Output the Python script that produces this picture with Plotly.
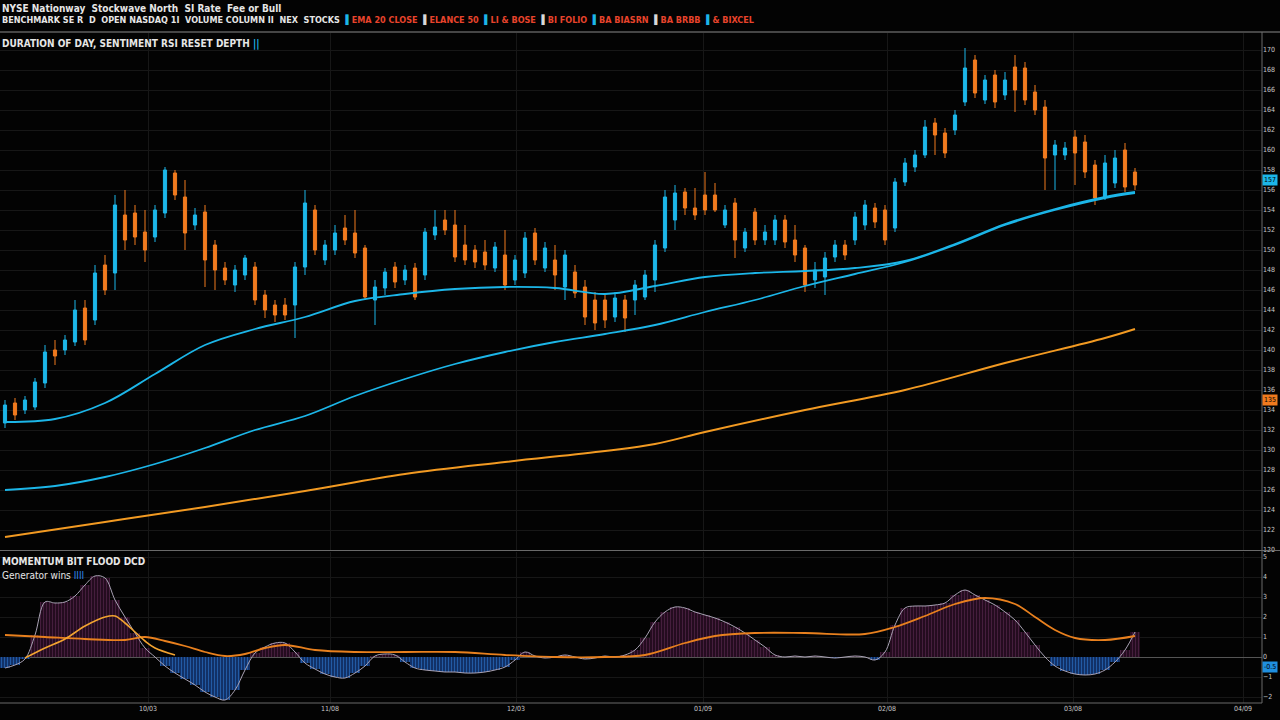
import plotly.graph_objects as go

# ---------------- data ----------------
idx = list(range(114))

opens = [132.7,134.7,134.0,134.3,136.7,140.0,140.0,140.8,144.2,143.0,
         148.5,147.7,153.5,153.7,151.8,151.3,153.7,157.7,155.3,152.5,
         153.8,150.5,148.2,146.5,147.5,148.3,145.5,144.5,144.5,144.5,
         148.3,154.0,149.0,150.0,152.2,151.7,150.2,145.0,146.2,148.3,
         147.0,148.2,147.5,151.5,153.0,152.5,150.5,150.0,149.8,148.2,
         149.5,147.0,147.7,151.7,148.2,149.0,146.3,147.8,146.3,145.0,
         145.0,143.3,145.0,145.0,145.3,147.0,150.2,153.0,155.8,154.2,
         155.5,155.5,152.5,154.7,150.2,153.8,151.0,151.0,153.0,151.0,
         150.2,147.0,147.3,149.3,150.5,151.0,152.5,154.2,154.0,152.2,
         156.8,158.3,159.5,162.7,161.7,162.0,164.8,169.0,165.0,167.5,
         165.5,168.3,168.2,165.8,164.3,159.5,159.5,161.3,160.8,158.5,
         155.3,156.7,160.0,157.8]

highs = [135.0,135.2,135.4,137.2,140.5,141.0,141.5,145.0,145.0,148.5,
         149.5,155.5,156.0,154.5,154.0,154.5,158.3,158.0,157.0,154.2,
         154.5,151.0,148.8,148.5,149.5,148.8,146.0,145.0,145.2,148.8,
         156.0,154.5,151.0,152.5,153.5,154.0,150.5,147.0,148.2,148.8,
         148.5,148.7,152.2,154.0,154.0,154.0,152.5,150.5,151.0,150.8,
         152.0,149.5,151.8,152.2,150.8,150.5,150.0,148.5,147.0,145.8,
         145.5,145.8,145.5,147.0,148.0,151.0,156.0,156.5,156.2,156.2,
         157.8,156.7,154.5,155.2,152.2,154.2,152.5,153.5,153.5,152.5,
         150.5,148.8,149.8,151.0,151.0,153.8,155.0,154.7,154.5,157.2,
         159.2,160.0,163.0,163.2,162.2,164.0,170.2,169.5,167.5,168.0,
         167.8,169.5,168.8,166.5,165.0,161.0,160.8,162.0,161.5,159.0,
         159.5,160.0,160.7,158.2]

lows = [132.2,133.0,133.6,134.0,136.2,138.5,139.5,140.4,140.5,142.5,
        145.5,146.0,150.0,150.5,148.8,150.8,153.2,155.0,150.0,152.0,
        146.3,146.0,146.5,145.8,147.0,144.5,143.2,142.8,143.0,141.2,
        147.5,149.5,148.5,149.5,150.5,149.2,145.0,142.5,145.5,146.2,
        146.5,145.0,147.0,151.0,151.5,148.8,148.5,148.2,148.0,147.8,
        146.0,146.5,147.2,148.5,147.8,146.0,145.0,145.2,142.5,142.0,
        142.2,142.8,141.8,143.5,145.0,145.8,149.8,152.0,153.5,153.0,
        153.5,153.8,152.2,149.2,149.8,150.5,150.5,150.5,150.2,148.8,
        145.8,146.2,145.5,148.8,149.0,150.5,152.0,152.2,150.5,151.8,
        156.4,157.8,159.2,159.5,159.2,161.5,164.4,165.2,164.6,164.2,
        165.0,163.8,164.5,163.5,156.0,156.0,159.0,156.5,157.2,154.5,
        155.0,156.2,155.8,156.0]

closes = [134.5,133.5,135.0,136.8,139.8,139.4,141.0,144.0,141.0,147.7,
          146.0,154.5,151.0,151.3,150.0,154.0,158.0,155.5,151.7,153.5,
          149.0,148.0,147.0,148.0,149.2,145.0,144.0,143.5,143.5,148.3,
          154.7,150.0,150.5,151.7,151.0,149.7,145.3,146.3,147.8,146.8,
          148.0,145.3,151.8,152.3,152.0,149.3,149.0,148.8,148.5,150.3,
          146.5,149.0,151.2,149.0,150.2,147.5,149.5,145.7,143.3,142.7,
          143.0,145.2,143.2,146.5,147.5,150.5,155.3,155.7,154.2,153.5,
          154.0,154.0,154.0,151.0,151.8,151.0,151.8,153.0,150.8,149.5,
          146.5,148.0,149.2,150.5,149.5,153.3,154.5,152.8,151.0,156.8,
          158.7,159.5,162.3,161.5,159.7,163.5,168.2,165.7,167.0,164.8,
          167.0,166.0,165.0,164.0,159.2,160.5,160.2,159.7,157.8,155.2,
          158.7,159.2,156.3,156.5]

ma_idx = [0,5,10,15,20,25,30,35,40,45,50,55,60,65,70,75,80,85,90,95,100,105,110,113]
ma_fast = [132.8,133.1,134.7,137.6,140.5,142.1,143.3,144.9,145.6,146.1,146.3,146.2,
           145.6,146.4,147.3,147.7,147.9,148.2,148.9,150.6,152.6,154.1,155.3,155.8]
ma_mid = [126.0,126.4,127.3,128.6,130.2,132.0,133.4,135.4,137.1,138.6,139.8,140.8,
          141.6,142.5,143.8,145.0,146.4,147.6,148.8,150.5,152.5,154.0,155.2,155.7]
ma_slow_idx = [0,10,20,30,40,50,60,65,70,80,90,100,110,113]
ma_slow = [121.3,122.8,124.3,125.9,127.6,128.8,129.9,130.6,131.8,134.0,136.0,138.7,141.2,142.1]

hist = [-0.55,-0.4,-0.1,1.1,2.75,2.7,2.75,3.05,3.6,4.05,
        3.95,2.85,2.0,1.2,0.45,0.0,-0.45,-0.8,-1.1,-1.4,
        -1.75,-2.0,-2.15,-1.65,-0.65,0.2,0.5,0.7,0.7,0.25,
        -0.3,-0.6,-0.85,-1.0,-1.05,-0.8,-0.45,0.05,0.15,0.1,
        -0.25,-0.55,-0.65,-0.7,-0.75,-0.75,-0.8,-0.8,-0.75,-0.65,
        -0.5,-0.15,0.25,0.05,-0.05,0.0,0.1,0.0,-0.1,-0.05,
        0.05,0.0,0.1,0.35,0.95,1.75,2.25,2.5,2.45,2.25,
        2.1,1.95,1.75,1.5,1.2,0.85,0.5,0.1,0.0,0.05,
        0.0,0.05,0.0,-0.05,0.0,0.05,0.0,-0.15,0.25,1.6,
        2.45,2.55,2.55,2.6,2.7,3.1,3.35,3.1,2.85,2.6,
        2.25,1.85,1.25,0.6,0.0,-0.45,-0.7,-0.85,-0.9,-0.85,
        -0.65,-0.25,0.35,1.25]

osc_a_idx = [0,4,8,12,14,16,18,20,22,24,26,28,31,35,40,45,50,55,60,64,
             68,71,75,80,86,89,92,95,98,101,103,105,107,110,113]
osc_a = [1.1,1.0,0.9,0.85,1.0,0.8,0.55,0.25,0.05,0.15,0.45,0.6,0.35,0.25,0.25,0.25,0.1,0.0,0.0,0.1,
         0.7,1.05,1.2,1.2,1.15,1.5,2.05,2.65,2.95,2.65,2.0,1.35,0.95,0.85,1.05]
osc_b_idx = [2,4,6,8,10,11,12,13,14,15,17]
osc_b = [-0.05,0.45,0.9,1.55,2.0,2.05,1.7,1.25,0.8,0.45,0.1]

date_labels = ["10/03", "11/08", "12/03", "01/09", "02/08", "03/08", "04/09"]
price_tags = [157.0, 135.0]
osc_tag = -0.5

title_line1 = "NYSE Nationway  Stockwave North  SI Rate  Fee or Bull"
title_line2 = "BENCHMARK SE R  D  OPEN NASDAQ 1I  VOLUME COLUMN II  NEX  STOCKS"
legend_items = ["EMA 20 CLOSE", "ELANCE 50", "LI & BOSE", "BI FOLIO", "BA BIASRN", "BA BRBB", "& BIXCEL"]
title_line3 = "DURATION OF DAY, SENTIMENT RSI RESET DEPTH"
osc_title1 = "MOMENTUM BIT FLOOD DCD"
osc_title2 = "Generator wins"

# ---------------- style ----------------
BG = "#030303"
CYAN = "#1cb6e8"
ORANGE = "#f07a1e"
ORANGE_MA = "#f29a22"
GRID = "#171717"
FONT = "Liberation Sans Narrow, DejaVu Sans Condensed, Arial Narrow, sans-serif"

TOP, BOT, H = 33, 703, 670
RIGHT = 1262


def py(p):
    return (BOT - p) / H


fig = go.Figure()

fig.add_trace(go.Candlestick(
    x=idx, open=opens, high=highs, low=lows, close=closes,
    xaxis="x", yaxis="y", whiskerwidth=0,
    increasing=dict(line=dict(color=CYAN, width=1), fillcolor=CYAN),
    decreasing=dict(line=dict(color=ORANGE, width=1), fillcolor=ORANGE),
    showlegend=False, hoverinfo="skip"))

fig.add_trace(go.Scatter(x=ma_idx, y=ma_fast, mode="lines", xaxis="x", yaxis="y",
                         line=dict(color=CYAN, width=1.8, shape="spline"), hoverinfo="skip"))
fig.add_trace(go.Scatter(x=ma_idx, y=ma_mid, mode="lines", xaxis="x", yaxis="y",
                         line=dict(color=CYAN, width=1.8, shape="spline"), hoverinfo="skip"))
fig.add_trace(go.Scatter(x=ma_slow_idx, y=ma_slow, mode="lines", xaxis="x", yaxis="y",
                         line=dict(color=ORANGE_MA, width=2, shape="spline"), hoverinfo="skip"))

pos = [v if v > 0 else None for v in hist]
neg = [v if v < 0 else None for v in hist]
fig.add_trace(go.Bar(x=idx, y=pos, xaxis="x2", yaxis="y2", width=1.0,
                     marker=dict(color="#5e2a52", line=dict(width=0),
                                 pattern=dict(shape="|", bgcolor="#1c0818", fgcolor="#6e3462",
                                              size=3, solidity=0.45)),
                     hoverinfo="skip"))
fig.add_trace(go.Bar(x=idx, y=neg, xaxis="x2", yaxis="y2", width=1.0,
                     marker=dict(color="#2f86ea", line=dict(width=0),
                                 pattern=dict(shape="|", bgcolor="#0b2452", fgcolor="#3a8ff5",
                                              size=3, solidity=0.5)),
                     hoverinfo="skip"))
fig.add_trace(go.Scatter(x=idx, y=hist, mode="lines", xaxis="x2", yaxis="y2",
                         line=dict(color="#a9a2b4", width=1, shape="spline"), hoverinfo="skip"))
fig.add_trace(go.Scatter(x=osc_a_idx, y=osc_a, mode="lines", xaxis="x2", yaxis="y2",
                         line=dict(color="#e8801e", width=1.8, shape="spline"), hoverinfo="skip"))
fig.add_trace(go.Scatter(x=osc_b_idx, y=osc_b, mode="lines", xaxis="x2", yaxis="y2",
                         line=dict(color="#f2a330", width=1.6, shape="spline"), hoverinfo="skip"))

xr = [-0.5, 125.7]
grid_x = [14.3, 32.5, 51.1, 69.8, 88.2, 106.8, 123.8]
tickfont = dict(family=FONT, size=7, color="#c8c8c8")

fig.update_layout(
    width=1280, height=720,
    paper_bgcolor=BG, plot_bgcolor=BG,
    margin=dict(l=0, r=1280 - RIGHT, t=TOP, b=720 - BOT, autoexpand=False),
    showlegend=False, hovermode=False, bargap=0, barmode="overlay", boxgap=0.55,
    xaxis=dict(domain=[0, 1], anchor="y", range=xr, rangeslider=dict(visible=False),
               tickvals=grid_x, showticklabels=False, showgrid=True, gridcolor=GRID,
               zeroline=False, ticks=""),
    xaxis2=dict(domain=[0, 1], anchor="y2", range=xr, matches="x",
                tickvals=grid_x, ticktext=date_labels, tickfont=tickfont,
                showgrid=True, gridcolor=GRID, zeroline=False, ticks=""),
    yaxis=dict(domain=[py(550), 1], side="right", range=[120, 171.7], dtick=2,
               showgrid=True, gridcolor=GRID, zeroline=False, tickfont=tickfont, ticks=""),
    yaxis2=dict(domain=[0, py(552)], side="right", range=[-2.3, 5.25], dtick=1,
                showgrid=True, gridcolor=GRID, zeroline=True, zerolinecolor="#555555",
                zerolinewidth=1, tickfont=tickfont, ticks=""),
)

line_col = "#8a8a8a"
fig.add_shape(type="line", xref="paper", yref="paper", x0=0, x1=1.02, y0=py(32), y1=py(32),
              line=dict(color=line_col, width=1))
fig.add_shape(type="line", xref="paper", yref="paper", x0=0, x1=1.02, y0=py(550.5), y1=py(550.5),
              line=dict(color="#6a6a6a", width=1))
fig.add_shape(type="line", xref="paper", yref="paper", x0=0, x1=1.0, y0=0, y1=0,
              line=dict(color="#6a6a6a", width=1))
fig.add_shape(type="line", xref="paper", yref="paper", x0=1, x1=1, y0=0, y1=py(32),
              line=dict(color="#6a6a6a", width=1))

txt_font = dict(family=FONT, size=10, color="#e6e6e6", weight="bold")

fig.add_annotation(xref="paper", yref="paper", x=0, y=py(8), xanchor="left", yanchor="middle",
                   text=title_line1, showarrow=False, font=txt_font)
items_html = "".join(
    "<span style='color:%s'>▌</span><span style='color:#e8432c'>%s</span>  " % (
        CYAN if k % 2 == 0 else "#d8d8d8", s) for k, s in enumerate(legend_items))
fig.add_annotation(xref="paper", yref="paper", x=0, y=py(20), xanchor="left", yanchor="middle",
                   text=title_line2 + "  " + items_html, showarrow=False,
                   font=dict(family=FONT, size=9, color="#e6e6e6", weight="bold"))
fig.add_annotation(xref="paper", yref="paper", x=0, y=py(44), xanchor="left", yanchor="middle",
                   text=title_line3 + " <span style='color:#1cb6e8'>||</span>",
                   showarrow=False, font=txt_font)
fig.add_annotation(xref="paper", yref="paper", x=0, y=py(561), xanchor="left", yanchor="middle",
                   text=osc_title1, showarrow=False, font=txt_font)
fig.add_annotation(xref="paper", yref="paper", x=0, y=py(575), xanchor="left", yanchor="middle",
                   text=osc_title2 + " <span style='color:#2f86ea'>IIII</span>",
                   showarrow=False, font=dict(family=FONT, size=10, color="#e6e6e6"))

tag_font = dict(family=FONT, size=7, color="#000000")
fig.add_annotation(xref="paper", yref="y", x=1.0, y=price_tags[0], xanchor="left", yanchor="middle",
                   text="%.0f" % price_tags[0], showarrow=False, bgcolor=CYAN, font=tag_font,
                   borderpad=1)
fig.add_annotation(xref="paper", yref="y", x=1.0, y=price_tags[1], xanchor="left", yanchor="middle",
                   text="%.0f" % price_tags[1], showarrow=False, bgcolor=ORANGE, font=tag_font,
                   borderpad=1)
fig.add_annotation(xref="paper", yref="y2", x=1.0, y=osc_tag, xanchor="left", yanchor="middle",
                   text="%.1f" % osc_tag, showarrow=False, bgcolor="#1f8fe0", font=tag_font,
                   borderpad=1)

fig.write_html("out.html", config={"displayModeBar": False},
               post_script="document.body.style.margin='0px';document.body.style.overflow='hidden';")
